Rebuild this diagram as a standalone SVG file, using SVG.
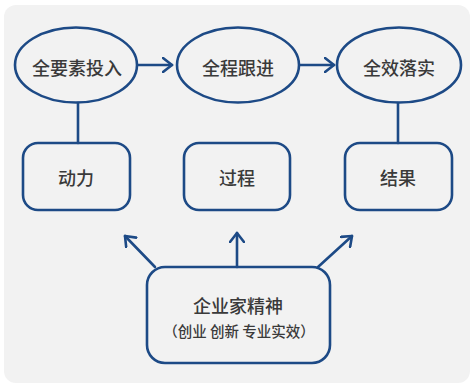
<svg xmlns="http://www.w3.org/2000/svg" width="474" height="386" viewBox="0 0 474 386">
<defs>
<style>
.shape{fill:none;stroke:#1d4a86;stroke-width:2.6}
.line{fill:none;stroke:#1d4a86;stroke-width:2.6;stroke-linecap:round;stroke-linejoin:round}
.t{font-family:"Noto Sans CJK SC","Noto Sans",sans-serif;fill:#3a3a3a;text-anchor:middle;dominant-baseline:central;font-weight:500}
</style>
<marker id="ah" viewBox="0 0 12 16" refX="10" refY="8" markerWidth="12" markerHeight="16" markerUnits="userSpaceOnUse" orient="auto">
<path d="M1,1 L10,8 L1,15" fill="none" stroke="#1d4a86" stroke-width="2.6" stroke-linecap="round" stroke-linejoin="round"/>
</marker>
</defs>
<rect x="0" y="0" width="474" height="386" fill="#ffffff"/>
<rect x="4" y="5" width="466" height="378" rx="12" fill="#f2f2f2"/>
<g id="connectors">
<line class="line" x1="138" y1="65" x2="172" y2="65" marker-end="url(#ah)"/>
<line class="line" x1="300" y1="65" x2="334" y2="65" marker-end="url(#ah)"/>
<line class="line" x1="78" y1="103" x2="78" y2="143"/>
<line class="line" x1="398" y1="103" x2="398" y2="143"/>
<line class="line" x1="155" y1="267" x2="125" y2="236" marker-end="url(#ah)"/>
<line class="line" x1="237" y1="267" x2="237" y2="233" marker-end="url(#ah)"/>
<line class="line" x1="318" y1="267" x2="352" y2="236" marker-end="url(#ah)"/>
</g>
<g id="n1">
<ellipse class="shape" cx="76" cy="65" rx="61" ry="37.5"/>
<text class="t" x="77" y="67" font-size="18">全要素投入</text>
</g>
<g id="n2">
<ellipse class="shape" cx="238" cy="65" rx="61" ry="37.5"/>
<text class="t" x="238" y="67" font-size="18">全程跟进</text>
</g>
<g id="n3">
<ellipse class="shape" cx="399" cy="65" rx="62" ry="37.5"/>
<text class="t" x="399" y="67" font-size="18">全效落实</text>
</g>
<g id="n4">
<rect class="shape" x="23" y="143" width="107" height="67" rx="15"/>
<text class="t" x="76" y="177" font-size="18">动力</text>
</g>
<g id="n5">
<rect class="shape" x="184" y="143" width="106" height="67" rx="15"/>
<text class="t" x="237" y="177" font-size="18">过程</text>
</g>
<g id="n6">
<rect class="shape" x="345" y="143" width="107" height="67" rx="15"/>
<text class="t" x="398" y="177" font-size="18">结果</text>
</g>
<g id="n7">
<rect class="shape" x="147" y="267" width="183" height="96" rx="18"/>
<text class="t" x="238" y="305" font-size="18">企业家精神</text>
<text class="t" x="239" y="330" font-size="14.5">（创业 创新  专业实效）</text>
</g>
</svg>
